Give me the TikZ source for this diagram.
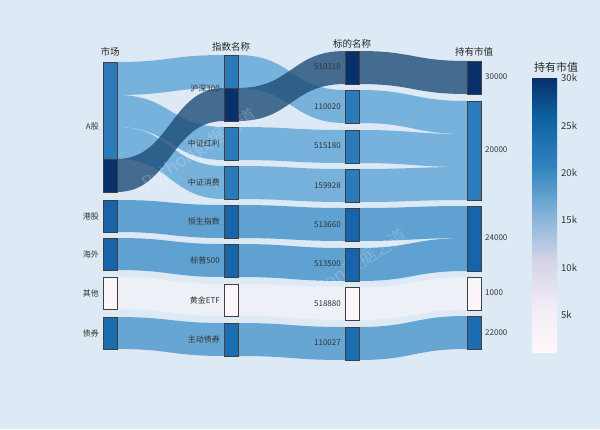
\documentclass[tikz,border=0pt]{standalone}
\usepackage{fontspec}
\setmainfont{Noto Sans CJK SC}
\definecolor{c0}{HTML}{FFF7FB}\definecolor{c5}{HTML}{F2ECF5}
\definecolor{c10}{HTML}{D3D4E8}\definecolor{c15}{HTML}{7FB0D6}
\definecolor{c20}{HTML}{2F82BE}\definecolor{c25}{HTML}{0F62A2}
\definecolor{c30}{HTML}{08306B}
\pgfdeclareverticalshading{cbar}{100bp}{
 color(0bp)=(c0); color(25bp)=(c0); color(33.2bp)=(c5); color(41.8bp)=(c10); color(50.5bp)=(c15); color(59.1bp)=(c20); color(67.7bp)=(c25); color(75bp)=(c30); color(100bp)=(c30)}
\definecolor{bg}{HTML}{DDE9F4}
\definecolor{v30}{HTML}{08306B}\definecolor{v20}{HTML}{2B7BBA}
\definecolor{v24}{HTML}{1764AB}\definecolor{v22}{HTML}{1C6CB0}
\definecolor{v1}{HTML}{FCF6FA}
\definecolor{f30}{HTML}{1E4C78}\definecolor{f20}{HTML}{5EA5D6}
\definecolor{f24}{HTML}{4090C8}\definecolor{f22}{HTML}{4A95CB}
\definecolor{f1}{HTML}{F1F2F7}
\newcommand{\flow}[7]{\fill[#7,fill opacity=0.8] (#1,#2) .. controls ({(#1+#4)/2},#2) and ({(#1+#4)/2},#5) .. (#4,#5) -- (#4,#6) .. controls ({(#1+#4)/2},#6) and ({(#1+#4)/2},#3) .. (#1,#3) -- cycle;}
\tikzset{bar/.style={draw=black!75,line width=0.5pt,minimum width=14pt,inner sep=0pt,anchor=north west},
 lbl/.style={font=\fontsize{8}{9}\selectfont,text=black!80,inner sep=1pt},
 ttl/.style={font=\fontsize{9.5}{11}\selectfont,text=black!85}}
\begin{document}
\begin{tikzpicture}[x=1pt,y=-1pt]
\fill[bg] (0,0) rectangle (600,429);
\useasboundingbox (0,0) rectangle (600,429);
% flows col1->col2
\flow{117}{62}{95}{224}{55}{88}{f20}
\flow{117}{95}{127}{224}{127}{160}{f20}
\flow{117}{127}{159}{224}{166}{199}{f20}
\flow{117}{200}{232}{224}{205}{238}{f24}
\flow{117}{238}{270}{224}{244}{277}{f24}
\flow{117}{277}{309}{224}{284}{316}{f1}
\flow{117}{317}{349}{224}{323}{356}{f22}
% col2->col3
\flow{238}{55}{88}{345}{90}{123}{f20}
\flow{238}{127}{160}{345}{130}{163}{f20}
\flow{238}{166}{199}{345}{169}{202}{f20}
\flow{238}{205}{238}{345}{208}{241}{f24}
\flow{238}{244}{277}{345}{248}{281}{f24}
\flow{238}{284}{316}{345}{287}{320}{f1}
\flow{238}{323}{356}{345}{327}{360}{f22}
% col3->col4
\flow{359}{90}{123}{467}{101}{134}{f20}
\flow{359}{130}{163}{467}{134}{167}{f20}
\flow{359}{169}{202}{467}{167}{200}{f20}
\flow{359}{208}{241}{467}{206}{238}{f24}
\flow{359}{248}{281}{467}{238}{271}{f24}
\flow{359}{287}{320}{467}{277}{310}{f1}
\flow{359}{327}{360}{467}{316}{349}{f22}
% dark flows
\flow{117}{159}{192}{224}{88}{121}{f30}
\flow{238}{88}{121}{345}{51}{84}{f30}
\flow{359}{51}{84}{467}{61}{94}{f30}
% watermark
\node[rotate=33,text=white,opacity=0.2,font=\fontsize{18}{20}\selectfont] at (200,150) {Python数据之道};
\node[rotate=33,text=white,opacity=0.2,font=\fontsize{18}{20}\selectfont] at (350,270) {Python数据之道};
% col1 bars
\node[bar,fill=v20,minimum height=97pt] (a1) at (103,62) {};
\node[bar,fill=v30,minimum height=33pt] (a2) at (103,159) {};
\node[bar,fill=v24,minimum height=32pt] (hk) at (103,200) {};
\node[bar,fill=v24,minimum height=32pt] (hw) at (103,238) {};
\node[bar,fill=v1,minimum height=32pt] (qt) at (103,277) {};
\node[bar,fill=v22,minimum height=32pt] (zq) at (103,317) {};
% col2 bars
\node[bar,fill=v20,minimum height=33pt] (b1) at (224,55) {};
\node[bar,fill=v30,minimum height=33pt] (b2) at (224,88) {};
\node[bar,fill=v20,minimum height=33pt] (b3) at (224,127) {};
\node[bar,fill=v20,minimum height=33pt] (b4) at (224,166) {};
\node[bar,fill=v24,minimum height=33pt] (b5) at (224,205) {};
\node[bar,fill=v24,minimum height=33pt] (b6) at (224,244) {};
\node[bar,fill=v1,minimum height=32pt] (b7) at (224,284) {};
\node[bar,fill=v22,minimum height=33pt] (b8) at (224,323) {};
% col3 bars
\node[bar,fill=v30,minimum height=33pt] (c1) at (345,51) {};
\node[bar,fill=v20,minimum height=33pt] (c2) at (345,90) {};
\node[bar,fill=v20,minimum height=33pt] (c3) at (345,130) {};
\node[bar,fill=v20,minimum height=33pt] (c4) at (345,169) {};
\node[bar,fill=v24,minimum height=33pt] (c5) at (345,208) {};
\node[bar,fill=v24,minimum height=33pt] (c6) at (345,248) {};
\node[bar,fill=v1,minimum height=33pt] (c7) at (345,287) {};
\node[bar,fill=v22,minimum height=33pt] (c8) at (345,327) {};
% col4 bars
\node[bar,fill=v30,minimum height=33pt] (d1) at (467,61) {};
\node[bar,fill=v20,minimum height=99pt] (d2) at (467,101) {};
\node[bar,fill=v24,minimum height=65pt] (d3) at (467,206) {};
\node[bar,fill=v1,minimum height=33pt] (d4) at (467,277) {};
\node[bar,fill=v22,minimum height=33pt] (d5) at (467,316) {};
% titles
\node[ttl] at (110,52) {市场};
\node[ttl] at (231,47) {指数名称};
\node[ttl] at (352,44) {标的名称};
\node[ttl] at (474,52) {持有市值};
% col1 labels
\node[lbl,anchor=east] at (100,127) {A股};
\node[lbl,anchor=east] at (100,216) {港股};
\node[lbl,anchor=east] at (100,254) {海外};
\node[lbl,anchor=east] at (100,293) {其他};
\node[lbl,anchor=east] at (100,333) {债券};
% col2 labels
\node[lbl,anchor=east] at (221,88) {沪深300};
\node[lbl,anchor=east] at (221,143) {中证红利};
\node[lbl,anchor=east] at (221,182) {中证消费};
\node[lbl,anchor=east] at (221,221) {恒生指数};
\node[lbl,anchor=east] at (221,260) {标普500};
\node[lbl,anchor=east] at (221,300) {黄金ETF};
\node[lbl,anchor=east] at (221,339) {主动债券};
% col3 labels
\node[lbl,anchor=east] at (342,67) {510310};
\node[lbl,anchor=east] at (342,107) {110020};
\node[lbl,anchor=east] at (342,146) {515180};
\node[lbl,anchor=east] at (342,186) {159928};
\node[lbl,anchor=east] at (342,225) {513660};
\node[lbl,anchor=east] at (342,264) {513500};
\node[lbl,anchor=east] at (342,304) {518880};
\node[lbl,anchor=east] at (342,343) {110027};
% col4 labels
\node[lbl,anchor=west] at (484,77) {30000};
\node[lbl,anchor=west] at (484,150) {20000};
\node[lbl,anchor=west] at (484,238) {24000};
\node[lbl,anchor=west] at (484,293) {1000};
\node[lbl,anchor=west] at (484,333) {22000};
% colorbar
\node[font=\fontsize{11}{12}\selectfont,text=black!85] at (556,67) {持有市值};
\shade[shading=cbar] (532,352) rectangle (557,78);
\foreach \v/\y in {30k/78,25k/126,20k/173,15k/220,10k/268,5k/315}
  \node[lbl,anchor=west,font=\fontsize{9.5}{11}\selectfont] at (560,\y) {\v};
\end{tikzpicture}
\end{document}
